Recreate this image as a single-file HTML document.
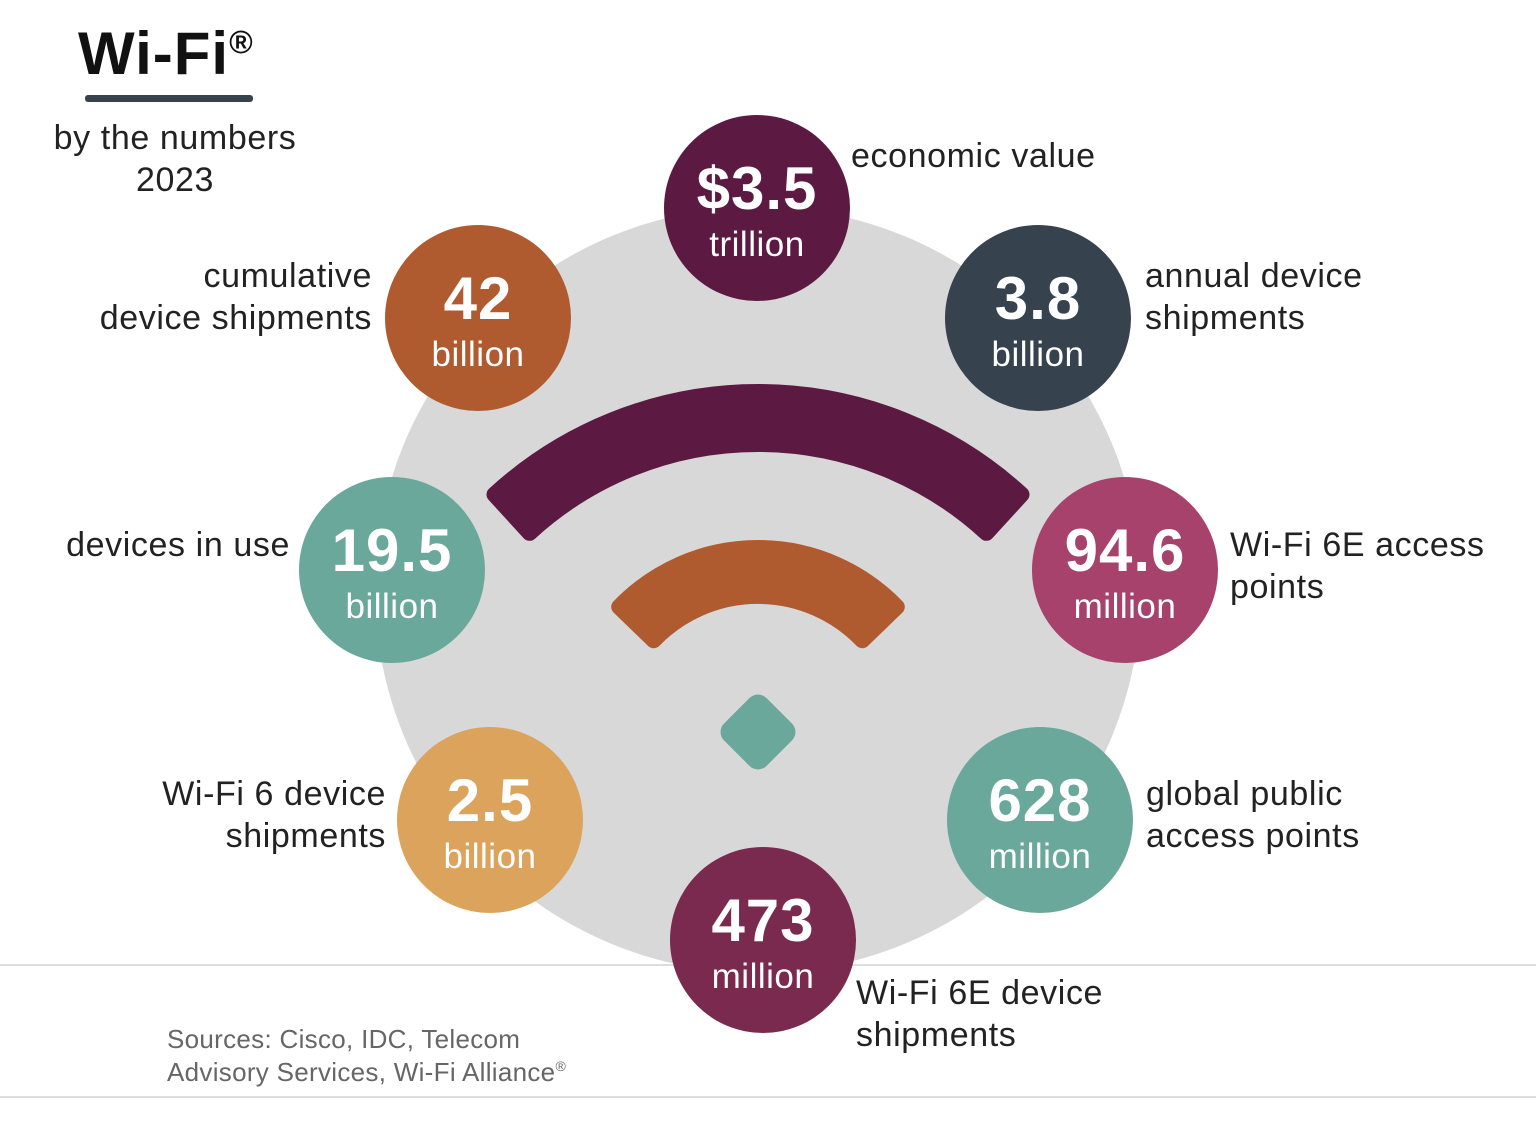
<!DOCTYPE html>
<html><head><meta charset="utf-8"><style>
html,body{margin:0;padding:0;background:#fff;}
body{width:1536px;height:1125px;position:relative;overflow:hidden;font-family:"Liberation Sans",sans-serif;color:#222;}
.t{position:absolute;font-size:34px;line-height:42px;white-space:nowrap;letter-spacing:0.6px;}
.c{position:absolute;width:186px;height:186px;border-radius:50%;color:#fff;text-align:center;}
.c b{display:block;font-size:60px;line-height:60px;margin-top:44px;letter-spacing:1px;}
.c span{display:block;font-size:35px;line-height:36px;margin-top:8px;letter-spacing:0.5px;}
</style></head><body>
<svg width="1536" height="1125" style="position:absolute;left:0;top:0">
<line x1="0" y1="965" x2="1536" y2="965" stroke="#ddd" stroke-width="2"/>
<line x1="0" y1="1097" x2="1536" y2="1097" stroke="#ddd" stroke-width="2"/>
<circle cx="758" cy="590" r="383" fill="#d8d8d8"/>
<path d="M494.5 494.5 A390 390 0 0 1 1021.5 494.5 L986.4 532.8 A338 338 0 0 0 529.6 532.8 Z" fill="#5c1a43" stroke="#5c1a43" stroke-width="16" stroke-linejoin="round"/>
<path d="M619.2 606.9 A193 193 0 0 1 896.8 606.9 L862.3 640.2 A145 145 0 0 0 653.7 640.2 Z" fill="#b05a30" stroke="#b05a30" stroke-width="16" stroke-linejoin="round"/>
<rect x="728" y="702" width="60" height="60" rx="12" transform="rotate(45 758 732)" fill="#6aa89c"/>
<rect x="85" y="95" width="168" height="7" rx="3" fill="#36424d"/>
</svg>
<div class="t" style="left:78px;top:22px;font-size:60px;line-height:64px;font-weight:bold;color:#111;letter-spacing:1px">Wi-Fi<sup style="font-size:32px;vertical-align:top;line-height:40px">®</sup></div>
<div class="t" style="left:40px;top:117px;width:270px;text-align:center;">by the numbers<br>2023</div>
<div class="c" style="left:664px;top:115px;background:#5c1a43"><b>$3.5</b><span>trillion</span></div>
<div class="c" style="left:385px;top:225px;background:#b05a30"><b>42</b><span>billion</span></div>
<div class="c" style="left:945px;top:225px;background:#36424d"><b>3.8</b><span>billion</span></div>
<div class="c" style="left:299px;top:477px;background:#6aa89c"><b>19.5</b><span>billion</span></div>
<div class="c" style="left:1032px;top:477px;background:#a6426b"><b>94.6</b><span>million</span></div>
<div class="c" style="left:397px;top:727px;background:#dba35c"><b>2.5</b><span>billion</span></div>
<div class="c" style="left:947px;top:727px;background:#6aa89c"><b>628</b><span>million</span></div>
<div class="c" style="left:670px;top:847px;background:#7a2a4f"><b>473</b><span>million</span></div>
<div class="t" style="left:851px;top:135px;">economic value</div>
<div class="t" style="left:40px;top:255px;width:332px;text-align:right;">cumulative<br>device shipments</div>
<div class="t" style="left:1145px;top:255px;">annual device<br>shipments</div>
<div class="t" style="left:20px;top:524px;width:270px;text-align:right;">devices in use</div>
<div class="t" style="left:1230px;top:524px;">Wi-Fi 6E access<br>points</div>
<div class="t" style="left:100px;top:773px;width:286px;text-align:right;">Wi-Fi 6 device<br>shipments</div>
<div class="t" style="left:1146px;top:773px;">global public<br>access points</div>
<div class="t" style="left:856px;top:972px;">Wi-Fi 6E device<br>shipments</div>
<div class="t" style="left:167px;top:1023px;font-size:26px;line-height:33px;color:#666;letter-spacing:0.3px">Sources: Cisco, IDC, Telecom<br>Advisory Services, Wi-Fi Alliance<sup style="font-size:14px;vertical-align:top;line-height:20px">®</sup></div>
</body></html>
